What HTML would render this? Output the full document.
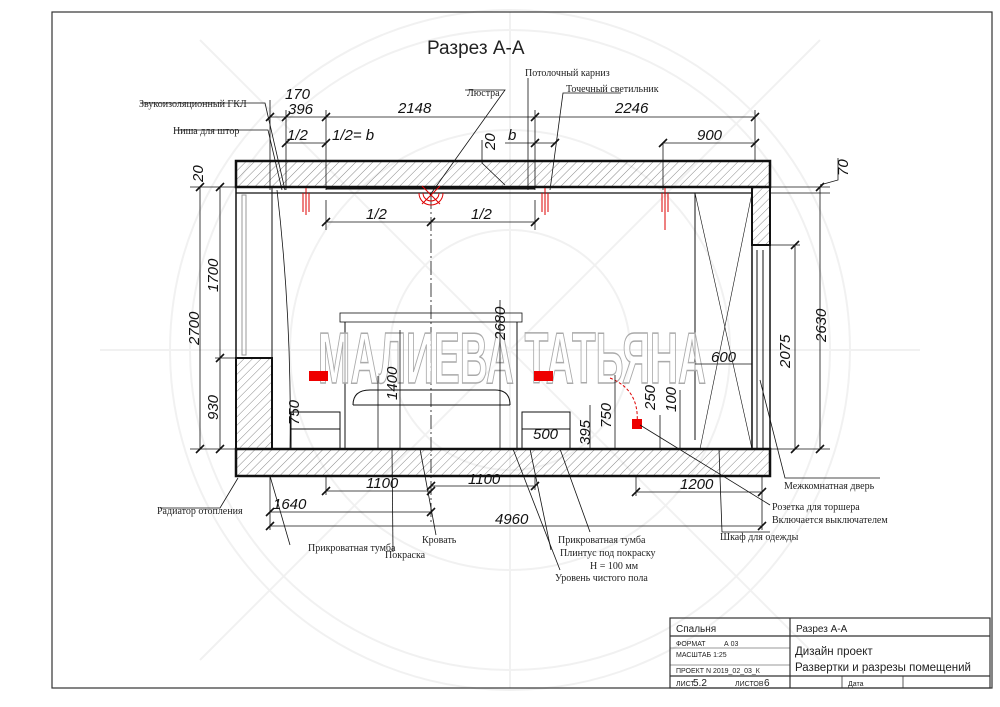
<!DOCTYPE html>
<html><head><meta charset="utf-8"><style>
html,body{margin:0;padding:0;background:#fff;width:1000px;height:707px;overflow:hidden}
svg{display:block;overflow:hidden}
.s{font-family:"Liberation Serif","DejaVu Serif",serif;font-size:10px;fill:#222}
.d{font-family:"Liberation Sans",sans-serif;font-style:italic;font-size:15px;fill:#111}
.t{font-family:"Liberation Sans",sans-serif;fill:#222}
</style></head><body>
<svg width="1000" height="707" viewBox="0 0 1000 707" xmlns="http://www.w3.org/2000/svg">
<defs>
<pattern id="h" width="6" height="6" patternUnits="userSpaceOnUse" patternTransform="rotate(45)">
<line x1="0" y1="0" x2="0" y2="6" stroke="#555" stroke-width="0.7"/></pattern>
</defs>
<rect width="1000" height="707" fill="#fff"/>
<g fill="none" stroke="#f1f1f1" stroke-width="2">
<circle cx="510" cy="350" r="120"/><circle cx="510" cy="350" r="220"/><circle cx="510" cy="350" r="320"/><circle cx="510" cy="350" r="340"/>
<line x1="510" y1="12" x2="510" y2="688"/><line x1="100" y1="350" x2="920" y2="350"/>
<line x1="200" y1="40" x2="820" y2="660"/><line x1="820" y1="40" x2="200" y2="660"/>
</g>
<rect x="52" y="12" width="940" height="676" fill="none" stroke="#333" stroke-width="1.2"/>
<text x="427" y="54" class="t" style="font-size:19px">Разрез А-А</text>

<rect x="236" y="161" width="534" height="26" fill="url(#h)" stroke="#111" stroke-width="2.5"/>
<rect x="236" y="449" width="534" height="27" fill="url(#h)" stroke="#111" stroke-width="2.5"/>
<rect x="752" y="187" width="18" height="58" fill="url(#h)" stroke="#111" stroke-width="2"/>
<rect x="236" y="358" width="36" height="91" fill="url(#h)" stroke="#111" stroke-width="2"/>
<g stroke="#111" fill="none">
<line x1="236" y1="193" x2="752" y2="193" stroke-width="1.2"/>
<line x1="326" y1="188" x2="535" y2="188" stroke-width="3"/>
<line x1="236" y1="449" x2="236" y2="187" stroke-width="1.5"/>
<line x1="272" y1="187" x2="272" y2="449" stroke-width="1"/>
<rect x="242" y="195" width="4" height="160" stroke="#999"/>
<path d="M277 190 Q292 320 290 449" stroke-width="0.8"/>
<line x1="752" y1="245" x2="752" y2="449" stroke-width="1.5"/>
<line x1="757" y1="250" x2="757" y2="449"/><line x1="763" y1="250" x2="763" y2="449"/>
<line x1="770" y1="245" x2="770" y2="449" stroke-width="1.5"/>
<line x1="695" y1="193" x2="695" y2="440"/><line x1="695" y1="193" x2="752" y2="449" stroke-width="0.6"/><line x1="752" y1="193" x2="700" y2="449" stroke-width="0.6"/>
<rect x="340" y="313" width="182" height="9" stroke-width="0.8"/>
<line x1="345" y1="322" x2="345" y2="449"/><line x1="517" y1="322" x2="517" y2="449"/>
<path d="M353 405 Q353 390 370 390 L495 390 Q510 390 510 405" />
<line x1="353" y1="405" x2="510" y2="405"/>
<rect x="291" y="412" width="49" height="17"/><rect x="291" y="429" width="49" height="20"/>
<rect x="522" y="412" width="48" height="17"/><rect x="522" y="429" width="48" height="20"/>
<line x1="431" y1="195" x2="431" y2="525" stroke-dasharray="14 3 2 3" stroke-width="0.8"/>
</g>
<text x="318" y="383" textLength="388" lengthAdjust="spacingAndGlyphs" style="font-family:'Liberation Sans Narrow','Liberation Sans',sans-serif;font-size:72px;font-weight:bold;fill:#fff;fill-opacity:0.6;stroke:#aaa;stroke-width:1.5">МАЛИЕВА ТАТЬЯНА</text>

<g stroke="#d00" fill="none" stroke-width="1">
<path d="M419 193 A12 12 0 0 0 443 193 M423 193 A8 8 0 0 0 439 193 M422 186 L440 204 M440 186 L422 204"/>
<path d="M306 188 L306 215 M303 193 L303 212 M309 193 L309 212 M545 188 L545 215 M542 193 L542 212 M548 193 L548 212 M665 188 L665 230 M662 193 L662 212 M668 193 L668 212"/>
<path d="M610 378 Q640 390 637 424" stroke-dasharray="3 2"/>
</g>
<g fill="#e00"><rect x="309" y="371" width="19" height="10"/><rect x="534" y="371" width="19" height="10"/><rect x="632" y="419" width="10" height="10"/></g>

<g stroke="#111" stroke-width="0.8" fill="none">
<line x1="270" y1="117" x2="755" y2="117"/>
<line x1="270" y1="100" x2="270" y2="190"/><line x1="286" y1="110" x2="286" y2="190"/><line x1="326" y1="110" x2="326" y2="190"/><line x1="535" y1="110" x2="535" y2="190"/><line x1="755" y1="110" x2="755" y2="161"/>
<line x1="286" y1="143" x2="326" y2="143"/><line x1="505" y1="143" x2="555" y2="143"/><line x1="663" y1="143" x2="755" y2="143"/><line x1="663" y1="143" x2="663" y2="190"/>
<line x1="326" y1="222" x2="535" y2="222"/><line x1="326" y1="200" x2="326" y2="230"/><line x1="535" y1="200" x2="535" y2="230"/>
<line x1="200" y1="187" x2="200" y2="449"/><line x1="220" y1="187" x2="220" y2="449"/>
<line x1="190" y1="187" x2="236" y2="187"/><line x1="190" y1="449" x2="236" y2="449"/><line x1="215" y1="358" x2="236" y2="358"/>
<line x1="820" y1="187" x2="820" y2="449"/><line x1="795" y1="245" x2="795" y2="449"/>
<line x1="770" y1="187" x2="830" y2="187"/><line x1="770" y1="193" x2="830" y2="193"/><line x1="770" y1="245" x2="800" y2="245"/><line x1="770" y1="449" x2="830" y2="449"/>
<line x1="326" y1="491" x2="431" y2="491"/><line x1="431" y1="486" x2="535" y2="486"/><line x1="636" y1="492" x2="762" y2="492"/>
<line x1="270" y1="512" x2="431" y2="512"/><line x1="270" y1="526" x2="762" y2="526"/>
<line x1="270" y1="476" x2="270" y2="530"/><line x1="762" y1="476" x2="762" y2="530"/><line x1="326" y1="476" x2="326" y2="495"/><line x1="535" y1="476" x2="535" y2="490"/><line x1="636" y1="476" x2="636" y2="496"/>
<line x1="378" y1="376" x2="378" y2="449"/><line x1="400" y1="330" x2="400" y2="449"/><line x1="500" y1="300" x2="500" y2="449"/>
<line x1="590" y1="405" x2="590" y2="449"/><line x1="615" y1="375" x2="615" y2="449"/><line x1="660" y1="415" x2="660" y2="449"/><line x1="680" y1="390" x2="680" y2="449"/>
<line x1="695" y1="364" x2="752" y2="364"/>
<polyline points="140,103 265,103 285,190"/><polyline points="175,130 268,130 282,190"/>
<polyline points="465,90 505,90 430,195"/><polyline points="528,78 528,190"/><polyline points="621,93 563,93 550,190"/>
<line x1="482" y1="140" x2="482" y2="163"/><line x1="482" y1="163" x2="505" y2="185"/>
<polyline points="238,478 220,508 160,508"/><polyline points="270,476 290,545"/>
<polyline points="420,449 436,535"/><polyline points="392,449 393,552"/>
<polyline points="513,449 560,570"/><polyline points="530,449 551,550"/><polyline points="560,449 590,532"/>
<polyline points="719,449 722,532 770,532"/><polyline points="760,380 785,478 880,478"/><polyline points="640,425 770,505"/>
<polyline points="820,185 838,180 838,158"/>
</g>
<g stroke="#111" stroke-width="1.6">
<path d="M266 121l8-8M282 121l8-8M322 121l8-8M531 121l8-8M751 121l8-8M282 147l8-8M322 147l8-8M531 147l8-8M551 147l8-8M659 147l8-8M751 147l8-8M322 226l8-8M427 226l8-8M531 226l8-8M196 191l8-8M196 453l8-8M216 191l8-8M216 362l8-8M216 453l8-8M816 191l8-8M816 453l8-8M791 249l8-8M791 453l8-8M322 495l8-8M427 495l8-8M427 490l8-8M531 490l8-8M632 496l8-8M758 496l8-8M266 516l8-8M427 516l8-8M266 530l8-8M758 530l8-8"/>
</g>
<g class="d">
<text x="285" y="99">170</text><text x="288" y="114">396</text><text x="398" y="113">2148</text><text x="615" y="113">2246</text>
<text x="287" y="140">1/2</text><text x="332" y="140">1/2= b</text><text x="508" y="140">b</text><text x="697" y="140">900</text>
<text x="366" y="219">1/2</text><text x="471" y="219">1/2</text>
<text x="366" y="488">1100</text><text x="468" y="484">1100</text><text x="680" y="489">1200</text>
<text x="273" y="509">1640</text><text x="495" y="524">4960</text>
<text x="711" y="362">600</text><text x="533" y="439">500</text>
<text transform="translate(199,345) rotate(-90)">2700</text><text transform="translate(218,292) rotate(-90)">1700</text>
<text transform="translate(218,420) rotate(-90)">930</text><text transform="translate(203,182) rotate(-90)">20</text>
<text transform="translate(826,342) rotate(-90)">2630</text><text transform="translate(790,368) rotate(-90)">2075</text>
<text transform="translate(495,150) rotate(-90)">20</text><text transform="translate(848,176) rotate(-90)">70</text>
<text transform="translate(397,400) rotate(-90)">1400</text><text transform="translate(505,340) rotate(-90)">2680</text>
<text transform="translate(299,425) rotate(-90)">750</text><text transform="translate(611,428) rotate(-90)">750</text>
<text transform="translate(590,445) rotate(-90)">395</text><text transform="translate(655,410) rotate(-90)">250</text><text transform="translate(676,412) rotate(-90)">100</text>
</g>
<g class="s">
<text x="139" y="107">Звукоизоляционный ГКЛ</text><text x="173" y="134">Ниша для штор</text>
<text x="467" y="96">Люстра</text><text x="525" y="76">Потолочный карниз</text><text x="566" y="92">Точечный светильник</text>
<text x="157" y="514">Радиатор отопления</text><text x="308" y="551">Прикроватная тумба</text>
<text x="422" y="543">Кровать</text><text x="385" y="558">Покраска</text>
<text x="558" y="543">Прикроватная тумба</text><text x="560" y="556">Плинтус под покраску</text><text x="590" y="569">Н = 100 мм</text>
<text x="555" y="581">Уровень чистого пола</text><text x="720" y="540">Шкаф для одежды</text>
<text x="784" y="489">Межкомнатная дверь</text><text x="772" y="510">Розетка для торшера</text><text x="772" y="523">Включается выключателем</text>
</g>
<g stroke="#333" fill="none" stroke-width="1.2">
<rect x="670" y="618" width="320" height="70"/>
<line x1="670" y1="636" x2="990" y2="636"/><line x1="790" y1="618" x2="790" y2="688"/>
<line x1="670" y1="676" x2="990" y2="676"/>
<line x1="670" y1="648" x2="790" y2="648" stroke-width="0.6"/><line x1="670" y1="665" x2="790" y2="665" stroke-width="0.6"/>
<line x1="842" y1="676" x2="842" y2="688" stroke-width="0.8"/><line x1="903" y1="676" x2="903" y2="688" stroke-width="0.8"/>
</g>
<g class="t">
<text x="676" y="632" font-size="10">Спальня</text><text x="796" y="632" font-size="10">Разрез А-А</text>
<text x="676" y="646" font-size="7">ФОРМАТ</text><text x="724" y="646" font-size="7">А 03</text>
<text x="676" y="657" font-size="7">МАСШТАБ  1:25</text>
<text x="676" y="673" font-size="7">ПРОЕКТ N   2019_02_03_К</text>
<text x="676" y="686" font-size="7">ЛИСТ</text><text x="693" y="686" font-size="10">5.2</text><text x="735" y="686" font-size="7">ЛИСТОВ</text><text x="764" y="686" font-size="10">6</text>
<text x="795" y="655" font-size="11.5">Дизайн проект</text><text x="795" y="671" font-size="11.5">Развертки и разрезы помещений</text>
<text x="848" y="686" font-size="7">Дата</text>
</g>
</svg>
</body></html>
